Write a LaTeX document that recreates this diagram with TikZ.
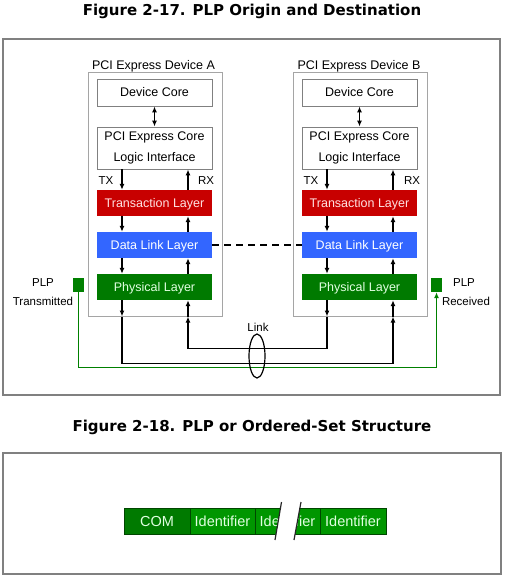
\documentclass[tikz,border=0pt]{standalone}
\usepackage{fontspec}
\setmainfont{Liberation Sans}
\newfontfamily\titlefont{DejaVu Sans}
\usetikzlibrary{shapes.geometric,arrows.meta}
\definecolor{trred}{RGB}{200,0,0}
\definecolor{dlblue}{RGB}{51,102,255}
\definecolor{phgreen}{RGB}{0,122,0}
\definecolor{comgreen}{RGB}{0,122,0}
\definecolor{idgreen}{RGB}{0,150,0}
\definecolor{segborder}{RGB}{0,70,0}
\definecolor{plpgreen}{RGB}{0,128,0}
\definecolor{framegray}{RGB}{128,128,128}
\definecolor{devgray}{RGB}{165,165,165}
\begin{document}
\begin{tikzpicture}[x=1pt,y=-1pt,
  framebox/.style={draw=framegray, line width=1.3pt, inner sep=0},
  devbox/.style={draw=devgray, line width=1pt, minimum width=134pt, minimum height=243pt, inner sep=0},
  whitebox/.style={draw=framegray, fill=white, line width=0.9pt, minimum width=115pt, inner sep=0, font=\fontsize{12.5}{21}\selectfont, align=center},
  layerbox/.style={minimum width=115pt, minimum height=26pt, inner sep=0, text height=9pt, text depth=0pt, font=\fontsize{12.5}{14}\selectfont},
  arr/.style={line width=1.3pt, -{Latex[length=6pt,width=5pt]}},
  dblarr/.style={line width=1.3pt, {Latex[length=6pt,width=5pt]}-{Latex[length=6pt,width=5pt]}},
  bus/.style={line width=1.6pt, -{Latex[length=6pt,width=5pt]}},
  greenline/.style={draw=plpgreen, line width=1.3pt, -{Latex[length=6pt,width=5pt]}},
  lbl/.style={font=\fontsize{11.5}{13}\selectfont, anchor=base, inner sep=0},
  devlbl/.style={font=\fontsize{12.5}{14}\selectfont, anchor=base, inner sep=0},
  ttl/.style={font=\titlefont\bfseries\fontsize{15}{18}\selectfont, anchor=base, inner sep=0},
  seg/.style={draw=segborder, line width=0.8pt, minimum height=26pt, inner sep=0, text height=10.4pt, text depth=0pt, text={rgb,255:red,225;green,255;blue,225}, font=\fontsize{14.5}{16}\selectfont},
  plpsq/.style={fill=plpgreen, minimum width=11pt, minimum height=14pt, inner sep=0}
]
\useasboundingbox (0,0) rectangle (505,580);

% ---------- Figure 2-17 ----------
\node[ttl] (title1) at (252,15.5) {Figure 2-17. PLP Origin and Destination};
\node[framebox, minimum width=497pt, minimum height=356pt] (frame1) at (251.5,217) {};

\node[devbox] (devA) at (155,194.5) {};
\node[devbox] (devB) at (360,194.5) {};
\node[devlbl] (devAl) at (153.5,69.5) {PCI Express Device A};
\node[devlbl] (devBl) at (359,69.5) {PCI Express Device B};

\node[whitebox, minimum height=27pt] (coreA) at (154.5,92.5) {Device Core};
\node[whitebox, minimum height=27pt] (coreB) at (359.5,92.5) {Device Core};
\node[whitebox, minimum height=42pt] (logicA) at (154.5,148) {PCI Express Core\\Logic Interface};
\node[whitebox, minimum height=42pt] (logicB) at (359.5,148) {PCI Express Core\\Logic Interface};

\node[layerbox, fill=trred, text={rgb,255:red,255;green,225;blue,225}] (trA) at (154.5,203) {Transaction Layer};
\node[layerbox, fill=trred, text={rgb,255:red,255;green,225;blue,225}] (trB) at (359.5,203) {Transaction Layer};
\node[layerbox, fill=dlblue, text=white] (dlA) at (154.5,245) {Data Link Layer};
\node[layerbox, fill=dlblue, text=white] (dlB) at (359.5,245) {Data Link Layer};
\node[layerbox, fill=phgreen, text={rgb,255:red,225;green,255;blue,225}] (phA) at (154.5,287) {Physical Layer};
\node[layerbox, fill=phgreen, text={rgb,255:red,225;green,255;blue,225}] (phB) at (359.5,287) {Physical Layer};

\coordinate (txA) at (122,0);
\coordinate (rxA) at (188,0);
\coordinate (txB) at (327,0);
\coordinate (rxB) at (393,0);

\node[lbl] (txAl) at (106,184) {TX};
\node[lbl] (rxAl) at (206,184) {RX};
\node[lbl] (txBl) at (311,184) {TX};
\node[lbl] (rxBl) at (412,184) {RX};

% vertical arrows inside devices
\draw[dblarr] (coreA) -- (logicA);
\draw[dblarr] (coreB) -- (logicB);
\foreach \d in {A,B}{
  \draw[arr] (logic\d.south -| tx\d) -- (tr\d.north -| tx\d);
  \draw[arr] (tr\d.north -| rx\d) -- (logic\d.south -| rx\d);
  \draw[arr] (tr\d.south -| tx\d) -- (dl\d.north -| tx\d);
  \draw[arr] (dl\d.north -| rx\d) -- (tr\d.south -| rx\d);
  \draw[arr] (dl\d.south -| tx\d) -- (ph\d.north -| tx\d);
  \draw[arr] (ph\d.north -| rx\d) -- (dl\d.south -| rx\d);
}

% dashed peer line
\draw[line width=1.4pt, dash pattern=on 7pt off 5pt] (dlA.east) -- (dlB.west);

% link lines
\draw[arr] (phA.south -| txA) -- (devA.south -| txA);
\draw[bus] (devA.south -| txA) -- ++(0,47) -| (devB.south -| rxB);
\draw[arr] (devB.south -| rxB) -- (phB.south -| rxB);
\draw[arr] (phB.south -| txB) -- (devB.south -| txB);
\draw[bus] (devB.south -| txB) -- ++(0,32) -| (devA.south -| rxA);
\draw[arr] (devA.south -| rxA) -- (phA.south -| rxA);

% PLP squares and green path
\node[plpsq] (plpA) at (78.5,285) {};
\node[plpsq] (plpB) at (436.5,285) {};
\draw[greenline] (plpA.south) -- ++(0,75) -| (plpB.south);
\node[lbl] (plpAl) at (43,286) {PLP};
\node[lbl] (plpAt) at (43,305) {Transmitted};
\node[lbl] (plpBl) at (464,286) {PLP};
\node[lbl] (plpBt) at (466,305) {Received};

% link ellipse
\node[ellipse, draw=black, line width=1.2pt, minimum width=16pt, minimum height=44pt, inner sep=0] (linkE) at (257,356) {};
\node[lbl] (linkl) at (258,331) {Link};

% ---------- Figure 2-18 ----------
\node[ttl] (title2) at (252,431) {Figure 2-18. PLP or Ordered-Set Structure};
\node[framebox, minimum width=498pt, minimum height=121pt] (frame2) at (252,513.5) {};

\node[seg, fill=comgreen, minimum width=66pt] (com) at (157,521) {COM};
\node[seg, fill=idgreen, minimum width=65pt] (id1) at (222.5,521) {Identifier};
\node[seg, fill=idgreen, minimum width=65pt] (id2) at (287.5,521) {Identifier};
\node[seg, fill=idgreen, minimum width=66pt] (id3) at (353,521) {Identifier};

% break
\fill[white] (281.5,502) -- (301,502) -- (294,540) -- (275,540) -- cycle;
\draw[line width=1.2pt, black!85] (281.5,502) -- (275,540);
\draw[line width=1.2pt, black!85] (301,502) -- (294,540);
\end{tikzpicture}
\end{document}
